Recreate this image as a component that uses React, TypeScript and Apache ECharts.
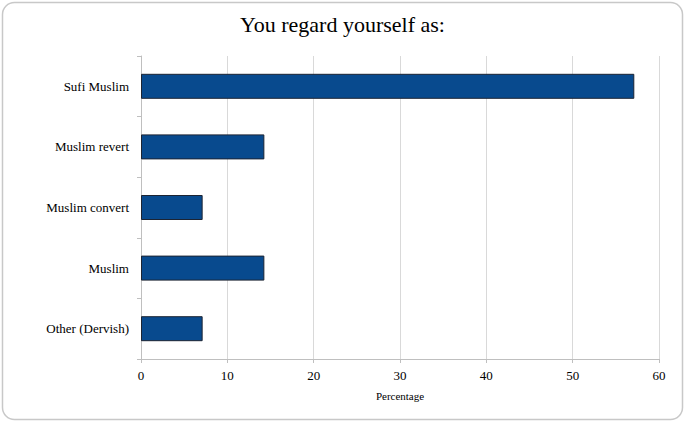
import React, { useEffect, useRef } from "react";
import * as echarts from "echarts";

const categories = ["Other (Dervish)", "Muslim", "Muslim convert", "Muslim revert", "Sufi Muslim"];
const values = [7.14, 14.29, 7.14, 14.29, 57.14];
const titleText = "You regard yourself as:";
const axisName = "Percentage";

export default function App() {
  const ref = useRef<HTMLDivElement>(null);
  useEffect(() => {
    document.body.style.margin = "0";
    const chart = echarts.init(ref.current!, undefined, { renderer: "svg" });
    const font = "'Liberation Serif', 'DejaVu Serif', serif";
    chart.setOption({
      animation: false,
      backgroundColor: "#ffffff",
      graphic: [
        {
          type: "rect",
          shape: { x: 2.5, y: 2.5, width: 680, height: 417, r: 12 },
          style: { fill: "none", stroke: "#c8c8c8", lineWidth: 1.5 },
          silent: true,
        },
      ],
      title: {
        text: titleText,
        left: "center",
        top: 8,
        textStyle: { fontFamily: font, fontSize: 22, fontWeight: "normal", color: "#000" },
      },
      grid: { left: 141, right: 26, top: 56, bottom: 64, containLabel: false },
      xAxis: {
        type: "value",
        min: 0,
        max: 60,
        interval: 10,
        name: axisName,
        nameLocation: "middle",
        nameGap: 31,
        nameTextStyle: { fontFamily: font, fontSize: 11, color: "#000" },
        axisLine: { show: true, lineStyle: { color: "#bfbfbf" } },
        axisTick: { show: true, length: 4, lineStyle: { color: "#bfbfbf" } },
        axisLabel: { fontFamily: font, fontSize: 13, color: "#000", margin: 10 },
        splitLine: { show: true, lineStyle: { color: "#d9d9d9" } },
      },
      yAxis: {
        type: "category",
        data: categories,
        axisLine: { show: true, lineStyle: { color: "#bfbfbf" } },
        axisTick: { show: true, length: 4, lineStyle: { color: "#bfbfbf" } },
        axisLabel: { fontFamily: font, fontSize: 13, color: "#000", margin: 12 },
      },
      series: [
        {
          type: "bar",
          data: values,
          barWidth: 25,
          itemStyle: { color: "#084a8e", borderColor: "#1c2433", borderWidth: 1 },
        },
      ],
    });
    return () => chart.dispose();
  }, []);
  return <div ref={ref} style={{ width: 685, height: 423, position: "absolute", left: 0, top: 0 }} />;
}
